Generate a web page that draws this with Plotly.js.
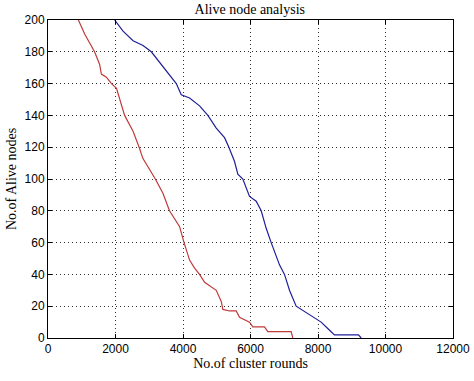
<!DOCTYPE html>
<html>
<head>
<meta charset="utf-8">
<script src="https://cdn.plot.ly/plotly-3.0.1.min.js"></script>
<style>html,body{margin:0;padding:0;background:#fff;}#chart{width:474px;height:381px;}</style>
</head>
<body>
<div id="chart"></div>
<script>
// Series A (red)
const redRounds = [900,1090,1380,1530,1580,1730,1880,2030,2270,2520,2700,2810,3180,3405,3600,3900,4030,4195,4343,4490,4640,4985,5133,5181,5379,5577,5675,5971,6070,6415,6513,7205,7253];
const redAlive  = [200,191,180,172,166,164,160,157,140,130,120,113,100,91,80,70,60,49,44,40,35,30,23,18,17,17,13,10,7,7,4,4,0];
// Series B (blue)
const blueRounds = [1975,2223,2520,2816,3061,3357,3603,3801,3949,4195,4491,4737,4985,5231,5359,5527,5625,5773,5971,6169,6317,6465,6613,6761,6859,7007,7155,7353,7501,7845,8094,8289,8487,9200,9280];
const blueAlive  = [200,193,187,184,180,172,166,160,153,151,146,140,132,126,120,111,103,100,89,86,80,69,60,52,46,40,30,20,18,13,10,6,2,2,0];

const xTicks = [0,2000,4000,6000,8000,10000,12000];
const yTicks = [0,20,40,60,80,100,120,140,160,180,200];

const traces = [
  {x: redRounds, y: redAlive, type: 'scatter', mode: 'lines', line: {color: '#c03a3a', width: 1.2}, showlegend: false},
  {x: blueRounds, y: blueAlive, type: 'scatter', mode: 'lines', line: {color: '#1f1f9a', width: 1.2}, showlegend: false}
];

const axisCommon = {
  showline: true, linecolor: '#000', linewidth: 1, mirror: 'ticks',
  ticks: 'inside', ticklen: 4, tickcolor: '#000',
  showgrid: true, gridcolor: '#333', griddash: '1px,3px', gridwidth: 1,
  zeroline: false,
  tickfont: {family: 'Liberation Sans, Arial, sans-serif', size: 12, color: '#000'}
};

const layout = {
  width: 474, height: 381,
  margin: {l: 48, r: 21, t: 20, b: 43},
  paper_bgcolor: '#fff', plot_bgcolor: '#fff',
  title: {text: 'Alive node analysis', x: 0.527, xanchor: 'center', y: 0.975, yanchor: 'middle',
          font: {family: 'Liberation Serif, Times New Roman, serif', size: 14, color: '#000'}},
  xaxis: Object.assign({}, axisCommon, {
    range: [0, 12000], tickvals: xTicks, ticktext: xTicks.map(String),
    title: {text: 'No.of cluster rounds', standoff: 2, font: {family: 'Liberation Serif, Times New Roman, serif', size: 14, color: '#000'}}
  }),
  yaxis: Object.assign({}, axisCommon, {
    range: [0, 200], tickvals: yTicks, ticktext: yTicks.map(String),
    title: {text: 'No.of Alive nodes', standoff: 4, font: {family: 'Liberation Serif, Times New Roman, serif', size: 14, color: '#000'}}
  })
};

Plotly.newPlot('chart', traces, layout, {displayModeBar: false, staticPlot: true});
</script>
</body>
</html>
